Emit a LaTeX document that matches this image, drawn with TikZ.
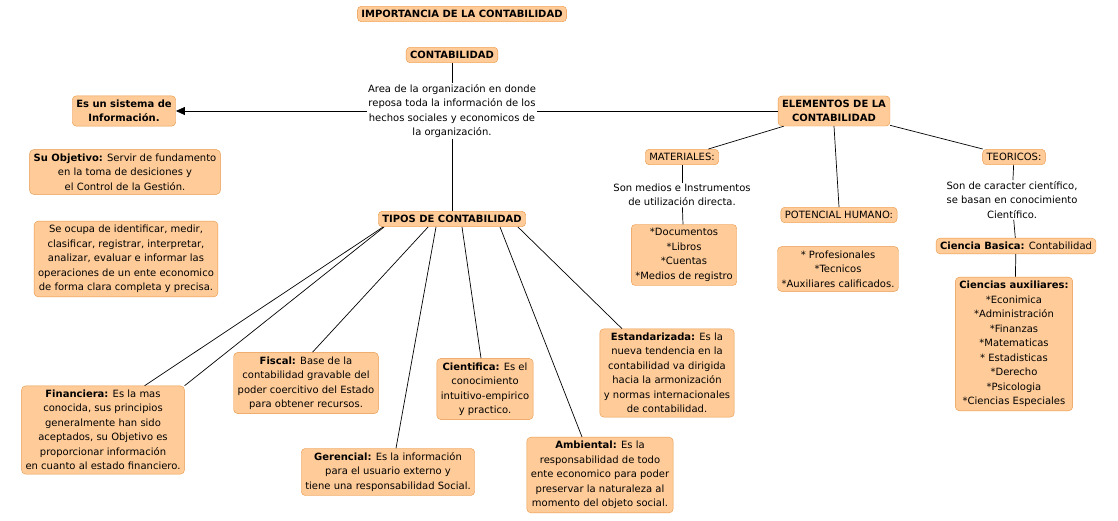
\documentclass[tikz,border=0pt]{standalone}
\usepackage{fontspec}
\setmainfont{DejaVu Sans}
\usetikzlibrary{arrows.meta}
\definecolor{boxfill}{RGB}{255,204,153}
\definecolor{boxline}{RGB}{232,150,70}
\tikzset{
  box/.style={draw=boxline, fill=boxfill, rounded corners=4pt, align=center, inner sep=4pt},
  plain/.style={align=center, inner sep=1pt},
  link/.style={draw=black, line width=0.7pt}
}
\begin{document}
\begin{tikzpicture}[x=1pt,y=-1pt,font=\fontsize{10}{14.5}\selectfont]
  \useasboundingbox (0,0) rectangle (1118,521);

  % Top
  \node[box] (title) at (462,14) {\textbf{IMPORTANCIA DE LA CONTABILIDAD}};
  \node[box] (conta) at (452,55) {\textbf{CONTABILIDAD}};
  \node[plain] (area) at (452,111) {Area de la organización en donde\\reposa toda la información de los\\hechos sociales y economicos de\\la organización.};

  % Left column
  \node[box] (sistema) at (124,111) {\textbf{Es un sistema de}\\\textbf{Información.}};
  \node[box] (objetivo) at (125,172) {\textbf{Su Objetivo:} Servir de fundamento\\en la toma de desiciones y\\el Control de la Gestión.};
  \node[box] (ocupa) at (126,259) {Se ocupa de identificar, medir,\\clasificar, registrar, interpretar,\\analizar, evaluar e informar las\\operaciones de un ente economico\\de forma clara completa y precisa.};

  % Elements
  \node[box] (elem) at (834,111) {\textbf{ELEMENTOS DE LA}\\\textbf{CONTABILIDAD}};
  \node[box] (mat) at (682,157) {MATERIALES:};
  \node[plain] (medios) at (682,195) {Son medios e Instrumentos\\de utilización directa.};
  \node[box] (docs) at (684,255) {*Documentos\\{}*Libros\\{}*Cuentas\\{}*Medios de registro};
  \node[box] (pot) at (839,215) {POTENCIAL HUMANO:};
  \node[box] (prof) at (838,269) {* Profesionales\\{}*Tecnicos\\{}*Auxiliares calificados.};
  \node[box] (teo) at (1014,157) {TEORICOS:};
  \node[plain] (caracter) at (1012,200) {Son de caracter científico,\\se basan en conocimiento\\Científico.};
  \node[box] (basica) at (1016,246) {\textbf{Ciencia Basica:} Contabilidad};
  \node[box] (aux) at (1014,344) {\textbf{Ciencias auxiliares:}\\{}*Econimica\\{}*Administración\\{}*Finanzas\\{}*Matematicas\\{}* Estadisticas\\{}*Derecho\\{}*Psicologia\\{}*Ciencias Especiales};

  % Types
  \node[box] (tipos) at (452,219) {\textbf{TIPOS DE CONTABILIDAD}};
  \node[box] (fin) at (103,430) {\textbf{Financiera:} Es la mas\\conocida, sus principios\\generalmente han sido\\aceptados, su Objetivo es\\proporcionar información\\en cuanto al estado financiero.};
  \node[box] (fiscal) at (306,383) {\textbf{Fiscal:} Base de la\\contabilidad gravable del\\poder coercitivo del Estado\\para obtener recursos.};
  \node[box] (ger) at (388,472) {\textbf{Gerencial:} Es la información\\para el usuario externo y\\tiene una responsabilidad Social.};
  \node[box] (cien) at (485,389) {\textbf{Cientifica:} Es el\\conocimiento\\intuitivo-empirico\\y practico.};
  \node[box] (amb) at (600,475) {\textbf{Ambiental:} Es la\\responsabilidad de todo\\ente economico para poder\\preservar la naturaleza al\\momento del objeto social.};
  \node[box] (est) at (667,373) {\textbf{Estandarizada:} Es la\\nueva tendencia en la\\contabilidad va dirigida\\hacia la armonización\\y normas internacionales\\de contabilidad.};

  % Connectors
  \draw[link] (conta) -- (area);
  \draw[link] (area) -- (tipos);
  \draw[link,-{Triangle[length=9pt,width=8pt]}] (area) -- (sistema);
  \draw[link] (area) -- (elem);
  \draw[link] (elem) -- (mat);
  \draw[link] (elem.south) -- (pot.north);
  \draw[link] (elem) -- (teo);
  \draw[link] (mat) -- (medios);
  \draw[link] (medios) -- (docs);
  \draw[link] (teo) -- (caracter);
  \draw[link] (caracter) -- (basica);
  \draw[link] (basica) -- (aux);
  \draw[link] (tipos.south west) ++(6,0) -- (fin.north east) ++(-40,0);
  \draw[link] ([xshift=5pt]tipos.south west) -- ([xshift=-40pt]fin.north east);
  \draw[link] ([xshift=50pt]tipos.south west) -- ([xshift=-66pt]fiscal.north east);
  \draw[link] ([xshift=-16pt]tipos.south) -- ([xshift=8pt]ger.north);
  \draw[link] ([xshift=10pt]tipos.south) -- ([xshift=-4pt]cien.north);
  \draw[link] ([xshift=48pt]tipos.south) -- ([xshift=-18pt]amb.north);
  \draw[link] ([xshift=-8pt]tipos.south east) -- ([xshift=-45pt]est.north);
\end{tikzpicture}
\end{document}
